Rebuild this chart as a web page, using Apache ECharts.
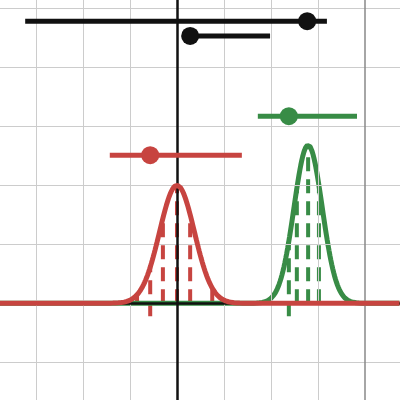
<!DOCTYPE html>
<html>
<head>
<meta charset="utf-8">
<script src="https://cdn.jsdelivr.net/npm/echarts@6/dist/echarts.min.js"></script>
<style>html,body{margin:0;background:#fff}#c{width:400px;height:400px}</style>
</head>
<body>
<div id="c"></div>
<script>
// graph window (units)
const xRange = [-3.766, 4.745];
const yRange = [-1.64, 5.14];
const gridX = [-3, -2, -1, 1, 2, 3];
const gridY = [-1, 1, 2, 3, 4, 5];

// bell curves: mean, sigma, peak
const redCurve = [0, 0.37, 2];
const greenCurve = [2.79, 0.3, 2.68];

// dashed verticals (x, bottom y)
const redDashes = [[-0.85, 0], [-0.57, -0.22], [-0.3, 0], [0, 0], [0.28, 0], [0.75, 0]];
const greenDashes = [[2.38, -0.22], [2.55, 0], [2.79, 0], [3.02, 0]];

// interval segments: [x1, x2, y, dotX]
const redSeg = [-1.43, 1.38, 2.51, -0.57];
const greenSeg = [1.72, 3.83, 3.17, 2.38];
const blackSeg1 = [-3.23, 3.19, 4.78, 2.77];
const blackSeg2 = [0.28, 1.98, 4.53, 0.28];

const RED = "#c74440", GREEN = "#388c46", BLACK = "#111";

function bell(p) {
  return x => p[2] * Math.exp(-((x - p[0]) ** 2) / (2 * p[1] * p[1]));
}
function sample(f) {
  const pts = [];
  for (let x = xRange[0]; x <= xRange[1]; x += 0.02) pts.push([x, f(x)]);
  return pts;
}

let chart = echarts.init(document.getElementById("c"));
const series = [];

// grid lines
series.push({
  type: "line", data: [], silent: true, z: 1,
  markLine: {
    symbol: "none", silent: true, label: { show: false },
    lineStyle: { color: "#ccc", width: 1, type: "solid" },
    data: gridX.map(v => ({ xAxis: v })).concat(gridY.map(v => ({ yAxis: v })))
  }
});
series.push({
  type: "line", data: [], silent: true, z: 1,
  markLine: {
    symbol: "none", silent: true, label: { show: false },
    lineStyle: { color: "#888", width: 1.5, type: "solid" },
    data: [{ xAxis: 4 }]
  }
});
series.push({
  type: "line", data: [], silent: true, z: 1,
  markLine: {
    symbol: "none", silent: true, label: { show: false },
    lineStyle: { color: BLACK, width: 2.5, type: "solid" },
    data: [{ xAxis: 0 }, { yAxis: 0 }]
  }
});

function dashes(list, f, color) {
  list.forEach(d => {
    series.push({
      type: "line", data: [[d[0], d[1]], [d[0], f(d[0])]], symbol: "none", z: 3,
      lineStyle: { color: color, width: 4, type: [14, 8] }
    });
  });
}
const fr = bell(redCurve), fg = bell(greenCurve);
dashes(greenDashes, fg, GREEN);
series.push({ type: "line", data: sample(fg), symbol: "none", z: 4, lineStyle: { color: GREEN, width: 5 } });
dashes(redDashes, fr, RED);
series.push({ type: "line", data: sample(fr), symbol: "none", z: 5, lineStyle: { color: RED, width: 5 } });

function segment(s, color) {
  series.push({ type: "line", data: [[s[0], s[2]], [s[1], s[2]]], symbol: "none", z: 6, lineStyle: { color: color, width: 5 } });
  series.push({ type: "scatter", data: [[s[3], s[2]]], symbolSize: 18, z: 7, itemStyle: { color: color, opacity: 1 } });
}
segment(redSeg, RED);
segment(greenSeg, GREEN);
segment(blackSeg1, BLACK);
segment(blackSeg2, BLACK);

chart.setOption({
  animation: false,
  grid: { left: 0, right: 0, top: 0, bottom: 0 },
  xAxis: { type: "value", min: xRange[0], max: xRange[1], show: false },
  yAxis: { type: "value", min: yRange[0], max: yRange[1], show: false },
  series: series
});
</script>
</body>
</html>
